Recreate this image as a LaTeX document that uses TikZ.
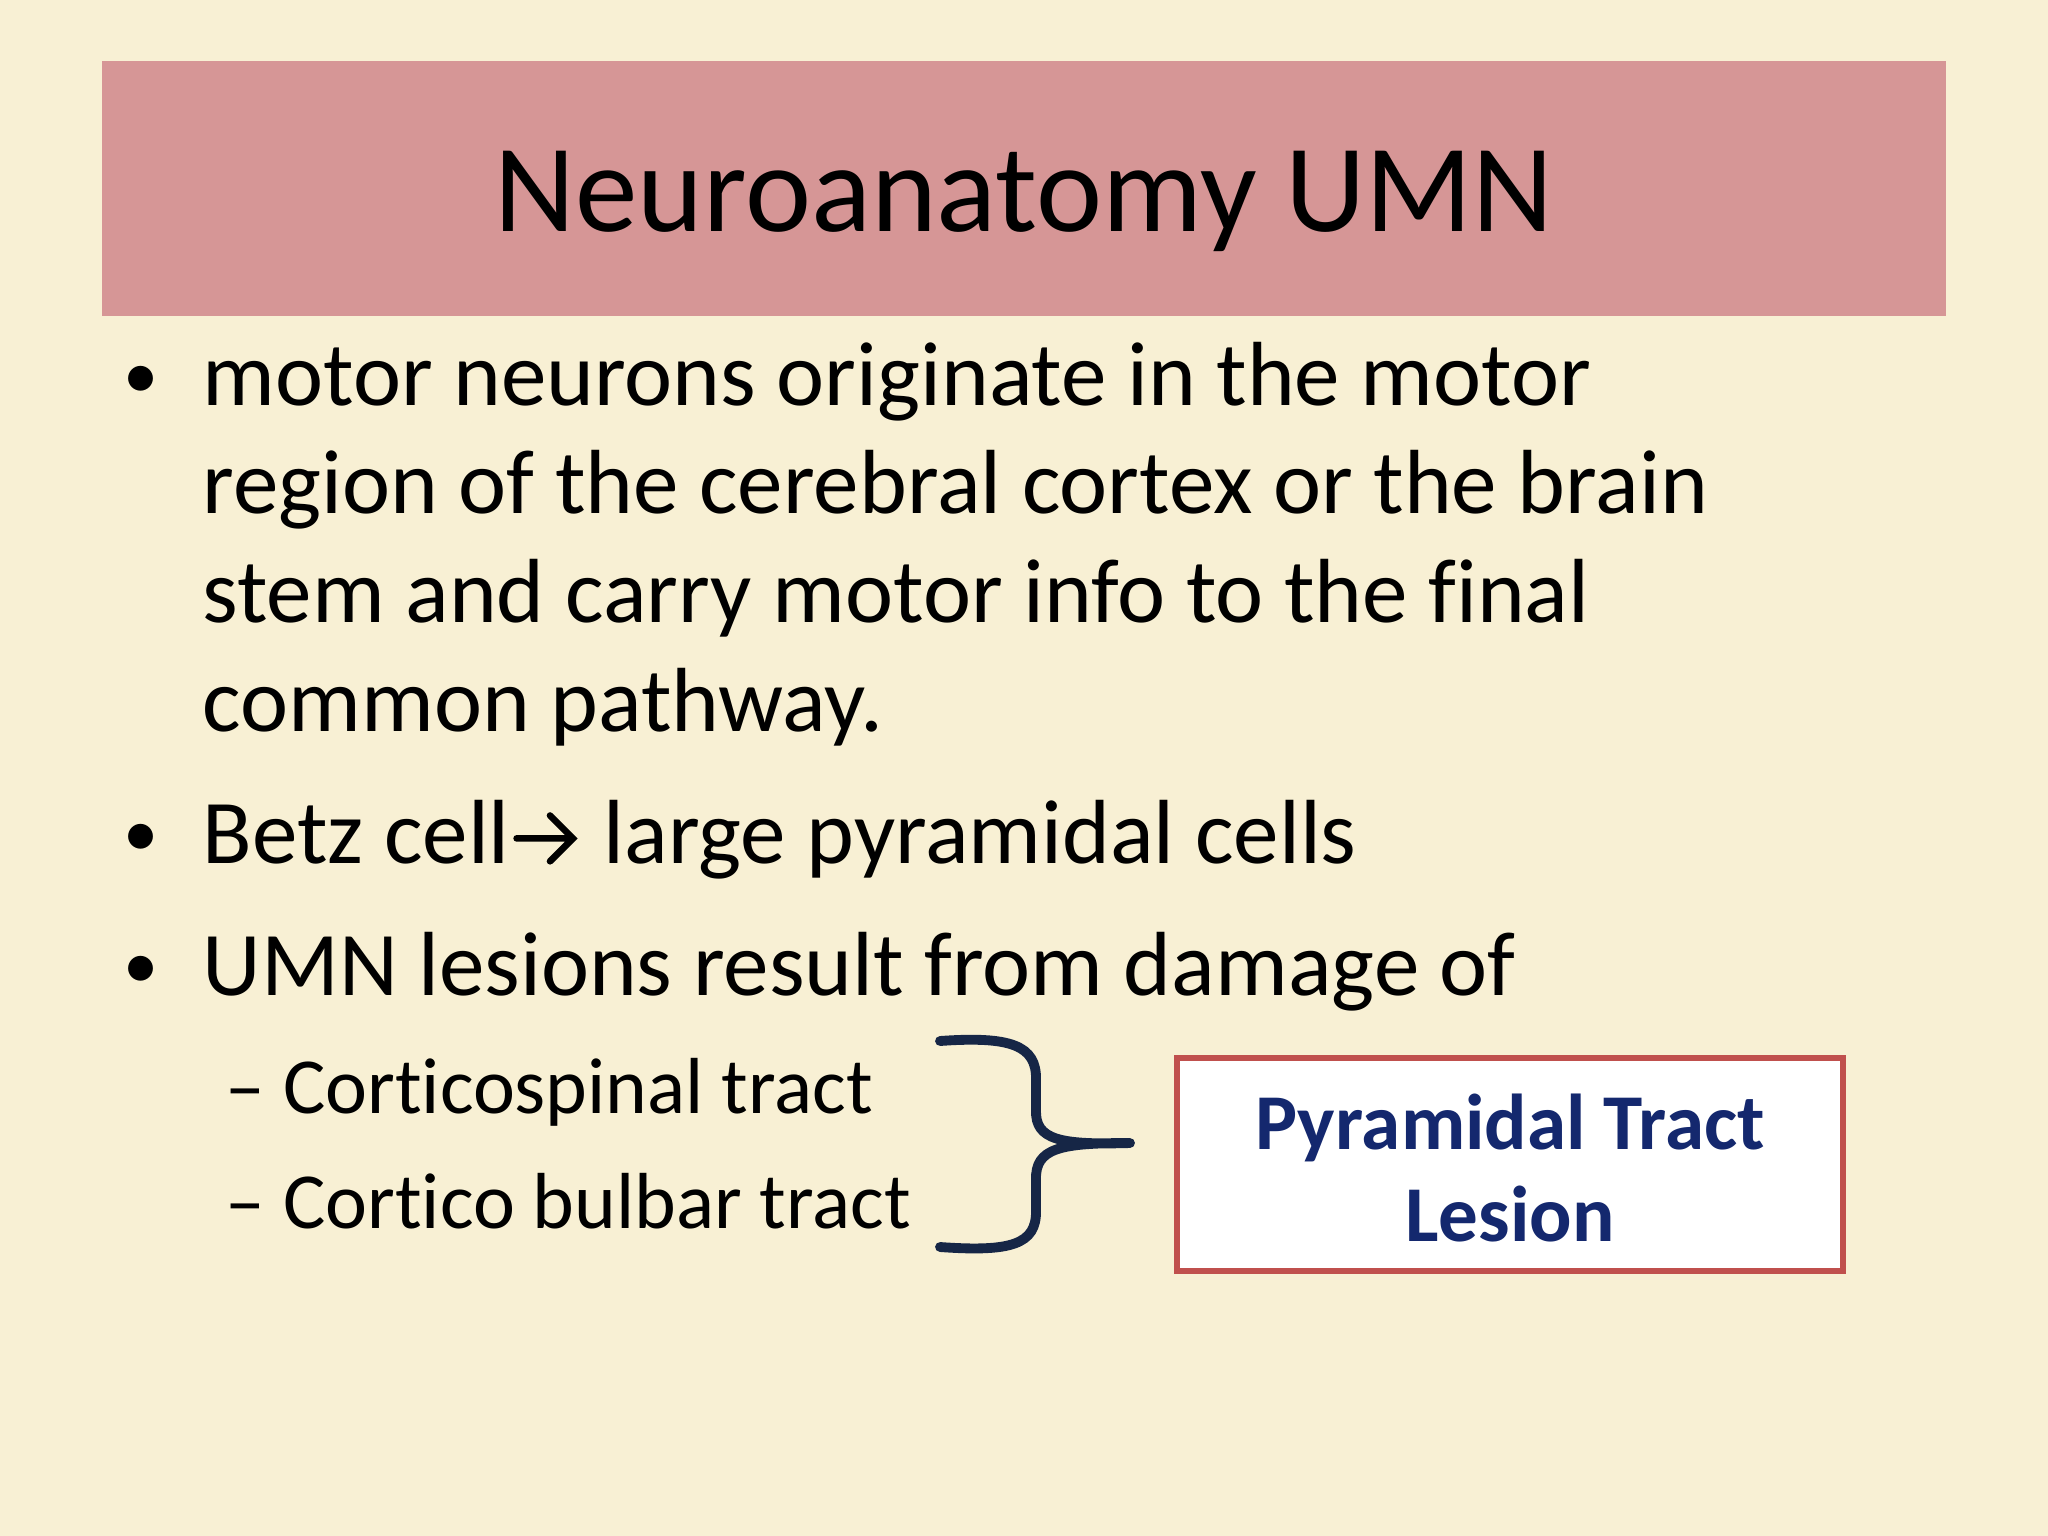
\documentclass[tikz,border=0pt]{standalone}
\usepackage{fontspec}
\setmainfont[Ligatures={NoCommon}]{Carlito}
\definecolor{bg}{RGB}{248,240,212}
\definecolor{titlebar}{RGB}{214,150,150}
\definecolor{navy}{RGB}{22,38,70}
\definecolor{boxtext}{RGB}{20,40,110}
\definecolor{boxline}{RGB}{192,80,77}
\tikzset{
  body/.style={anchor=base west,font=\fontsize{25.9}{29}\selectfont,inner sep=0pt},
  bul/.style={anchor=base,font=\fontsize{20}{22}\selectfont,inner sep=0pt},
  sub/.style={anchor=base west,font=\fontsize{22.6}{26}\selectfont,inner sep=0pt},
}
\newcommand{\chevarrow}{\begin{tikzpicture}[x=1pt,y=1pt,baseline=0pt]
  \draw[line width=1.9pt,line cap=round,line join=miter] (0.5,7) -- (16.5,7) (10,0.5) -- (16.5,7) -- (10,13.5);
  \end{tikzpicture}}
\begin{document}
\begin{tikzpicture}[x=0.01cm,y=-0.01cm]
\fill[bg] (0,0) rectangle (2048,1536);
\useasboundingbox (0,0) rectangle (2048,1536);
\fill[titlebar] (102,61) rectangle (1946,316);
\node[font=\fontsize{35.6}{40}\selectfont,inner sep=0pt] (title) at (1024,201) {Neuroanatomy UMN};
\node[bul] (b1) at (141,398) {•};
\node[body] (l1) at (202,405) {motor neurons originate in the motor};
\node[body] (l2) at (202,513) {region of the cerebral cortex or the brain};
\node[body] (l3) at (202,622) {stem and carry motor info to the final};
\node[body] (l4) at (202,731) {common pathway.};
\node[bul] (b2) at (141,856) {•};
\node[body] (l5) at (202,863) {Betz cell\hspace{1pt}\chevarrow\hspace{0.3em}large pyramidal cells};
\node[bul] (b3) at (141,988) {•};
\node[body] (l6) at (202,995) {UMN lesions result from damage of};
\node[sub] (s1) at (225,1113) {– Corticospinal tract};
\node[sub] (s2) at (225,1228) {– Cortico bulbar tract};
\coordinate (bt) at (940,1041);
\coordinate (bm) at (1130,1143);
\coordinate (bb) at (940,1247);
\draw[navy,line width=2.8pt,line cap=round]
  (bt) .. controls (1010,1036) and (1037,1045) .. (1036,1080)
  -- (1036,1110) .. controls (1035,1140) and (1060,1145) .. (bm)
  (bm) .. controls (1060,1143) and (1035,1148) .. (1036,1180)
  -- (1036,1210) .. controls (1037,1245) and (1010,1252) .. (bb);
\draw[boxline,line width=1.6pt,fill=white] (1177,1058) rectangle (1843,1271);
\node[font=\bfseries\fontsize{22.5}{27}\selectfont,text=boxtext,align=center,inner sep=0pt] (lesion) at (1510,1168) {Pyramidal Tract\\[-1pt]Lesion};
\end{tikzpicture}
\end{document}
